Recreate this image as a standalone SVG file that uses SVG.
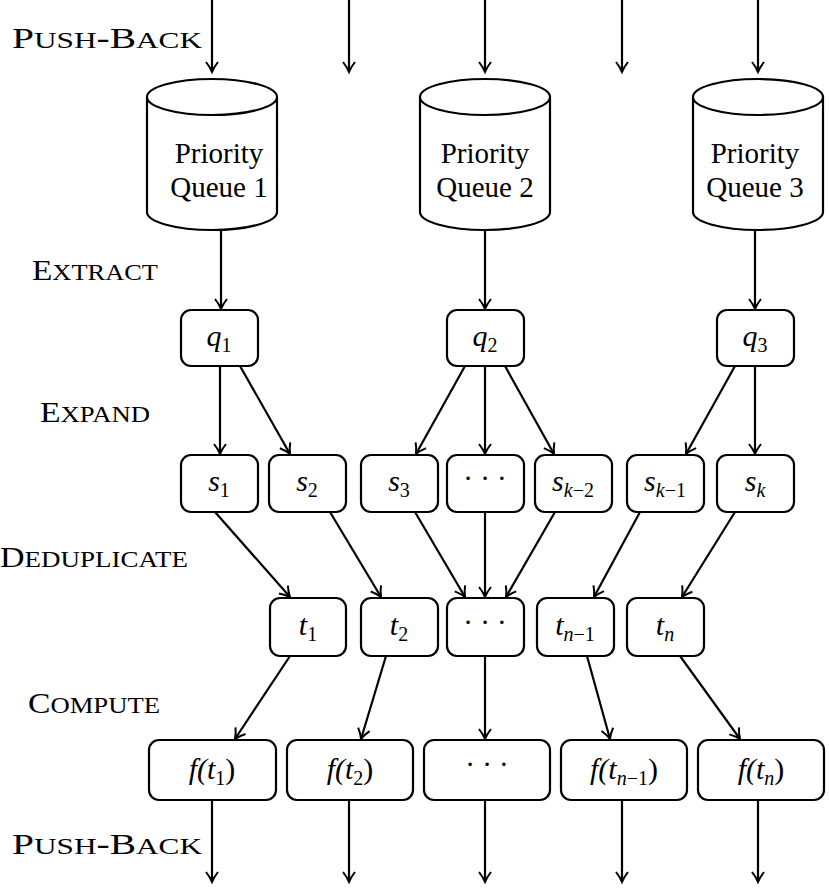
<svg xmlns="http://www.w3.org/2000/svg" width="829" height="888" viewBox="0 0 829 888">
<defs>
<marker id="ah" markerWidth="14" markerHeight="14" refX="12" refY="7" orient="auto" markerUnits="userSpaceOnUse">
<path d="M2,1 Q7,5 12,7 Q7,9 2,13" fill="none" stroke="#000" stroke-width="2"/>
</marker>
<style>
.b{fill:#fff;stroke:#000;stroke-width:2.2}
.c line{stroke:#000;stroke-width:2.2;marker-end:url(#ah)}
.t{font-family:"Liberation Serif",serif;font-size:29px;text-anchor:middle}
.m{font-family:"Liberation Serif",serif;font-size:30px;font-style:italic;text-anchor:middle}
.s{font-size:20px;font-style:normal}
.si{font-size:20px}
.l{font-family:"Liberation Serif",serif;font-size:29px}
.l tspan{font-size:23px}
</style>
</defs>
<rect width="829" height="888" fill="#fff"/>
<g id="labels">
<text class="l" x="12" y="48" textLength="190" lengthAdjust="spacingAndGlyphs">P<tspan>USH</tspan>-B<tspan>ACK</tspan></text>
<text class="l" x="32" y="280" textLength="126" lengthAdjust="spacingAndGlyphs">E<tspan>XTRACT</tspan></text>
<text class="l" x="40" y="422" textLength="110" lengthAdjust="spacingAndGlyphs">E<tspan>XPAND</tspan></text>
<text class="l" x="0" y="567" textLength="188" lengthAdjust="spacingAndGlyphs">D<tspan>EDUPLICATE</tspan></text>
<text class="l" x="28" y="713" textLength="132" lengthAdjust="spacingAndGlyphs">C<tspan>OMPUTE</tspan></text>
<text class="l" x="12" y="854" textLength="190" lengthAdjust="spacingAndGlyphs">P<tspan>USH</tspan>-B<tspan>ACK</tspan></text>
</g>
<g id="pq1"><path class="b" d="M147,97 V212 A65,18 0 0 0 277,212 V97 A65,18 0 0 0 147,97 A65,18 0 0 0 277,97"/><text class="t" x="219" y="163">Priority</text><text class="t" x="219" y="197">Queue 1</text></g>
<g id="pq2"><path class="b" d="M420,97 V212 A65,18 0 0 0 550,212 V97 A65,18 0 0 0 420,97 A65,18 0 0 0 550,97"/><text class="t" x="485" y="163">Priority</text><text class="t" x="485" y="197">Queue 2</text></g>
<g id="pq3"><path class="b" d="M693,97 V212 A65,18 0 0 0 823,212 V97 A65,18 0 0 0 693,97 A65,18 0 0 0 823,97"/><text class="t" x="755" y="163">Priority</text><text class="t" x="755" y="197">Queue 3</text></g>
<g id="q1"><rect class="b" x="181" y="310" width="77" height="56" rx="10"/><text class="m" x="219" y="346">q<tspan class="s" dy="6">1</tspan></text></g>
<g id="q2"><rect class="b" x="447" y="310" width="77" height="56" rx="10"/><text class="m" x="485" y="346">q<tspan class="s" dy="6">2</tspan></text></g>
<g id="q3"><rect class="b" x="717" y="310" width="77" height="56" rx="10"/><text class="m" x="755" y="346">q<tspan class="s" dy="6">3</tspan></text></g>
<g id="s1"><rect class="b" x="181" y="455" width="77" height="57" rx="10"/><text class="m" x="219" y="491">s<tspan class="s" dy="6">1</tspan></text></g>
<g id="s2"><rect class="b" x="269" y="455" width="77" height="57" rx="10"/><text class="m" x="307" y="491">s<tspan class="s" dy="6">2</tspan></text></g>
<g id="s3"><rect class="b" x="361" y="455" width="77" height="57" rx="10"/><text class="m" x="399" y="491">s<tspan class="s" dy="6">3</tspan></text></g>
<g id="sdots"><rect class="b" x="447" y="455" width="77" height="57" rx="10"/><text class="t" x="485" y="488">· · ·</text></g>
<g id="sk2"><rect class="b" x="535" y="455" width="77" height="57" rx="10"/><text class="m" x="573" y="491">s<tspan class="si" dy="6">k</tspan><tspan class="s">−2</tspan></text></g>
<g id="sk1"><rect class="b" x="627" y="455" width="77" height="57" rx="10"/><text class="m" x="665" y="491">s<tspan class="si" dy="6">k</tspan><tspan class="s">−1</tspan></text></g>
<g id="sk"><rect class="b" x="717" y="455" width="77" height="57" rx="10"/><text class="m" x="755" y="491">s<tspan class="si" dy="6">k</tspan></text></g>
<g id="t1"><rect class="b" x="270" y="598" width="76" height="58" rx="10"/><text class="m" x="308" y="635">t<tspan class="s" dy="6">1</tspan></text></g>
<g id="t2"><rect class="b" x="361" y="598" width="77" height="58" rx="10"/><text class="m" x="399" y="635">t<tspan class="s" dy="6">2</tspan></text></g>
<g id="tdots"><rect class="b" x="447" y="598" width="77" height="58" rx="10"/><text class="t" x="485" y="632">· · ·</text></g>
<g id="tn1"><rect class="b" x="537" y="598" width="77" height="58" rx="10"/><text class="m" x="575" y="635">t<tspan class="si" dy="6">n</tspan><tspan class="s">−1</tspan></text></g>
<g id="tn"><rect class="b" x="627" y="598" width="77" height="58" rx="10"/><text class="m" x="665" y="635">t<tspan class="si" dy="6">n</tspan></text></g>
<g id="f1"><rect class="b" x="149" y="740" width="127" height="60" rx="10"/><text class="m" x="212" y="779">f(t<tspan class="s" dy="6">1</tspan><tspan dy="-6" font-style="normal">)</tspan></text></g>
<g id="f2"><rect class="b" x="287" y="740" width="126" height="60" rx="10"/><text class="m" x="350" y="779">f(t<tspan class="s" dy="6">2</tspan><tspan dy="-6" font-style="normal">)</tspan></text></g>
<g id="fdots"><rect class="b" x="424" y="740" width="126" height="60" rx="10"/><text class="t" x="487" y="774">· · ·</text></g>
<g id="fn1"><rect class="b" x="561" y="740" width="126" height="60" rx="10"/><text class="m" x="624" y="779">f(t<tspan class="si" dy="6">n</tspan><tspan class="s">−1</tspan><tspan dy="-6" font-style="normal">)</tspan></text></g>
<g id="fn"><rect class="b" x="698" y="740" width="126" height="60" rx="10"/><text class="m" x="761" y="779">f(t<tspan class="si" dy="6">n</tspan><tspan dy="-6" font-style="normal">)</tspan></text></g>
<g id="connectors" class="c">
<line x1="212" y1="0" x2="212" y2="72"/><line x1="349" y1="0" x2="349" y2="72"/><line x1="485" y1="0" x2="485" y2="72"/><line x1="622" y1="0" x2="622" y2="72"/><line x1="758" y1="0" x2="758" y2="72"/>
<line x1="221" y1="230" x2="221" y2="309"/><line x1="485" y1="230" x2="485" y2="309"/><line x1="755" y1="230" x2="755" y2="309"/>
<line x1="220" y1="366" x2="220" y2="454"/><line x1="240" y1="366" x2="290" y2="454"/>
<line x1="465" y1="366" x2="416" y2="454"/><line x1="485" y1="366" x2="485" y2="454"/><line x1="505" y1="366" x2="554" y2="454"/>
<line x1="735" y1="366" x2="686" y2="454"/><line x1="755" y1="366" x2="755" y2="454"/>
<line x1="215" y1="512" x2="290" y2="597"/><line x1="330" y1="512" x2="381" y2="597"/><line x1="415" y1="512" x2="465" y2="597"/><line x1="485" y1="512" x2="485" y2="597"/><line x1="555" y1="512" x2="506" y2="597"/><line x1="640" y1="512" x2="594" y2="597"/><line x1="735" y1="512" x2="682" y2="597"/>
<line x1="290" y1="656" x2="235" y2="739"/><line x1="386" y1="656" x2="361" y2="739"/><line x1="485" y1="656" x2="485" y2="739"/><line x1="587" y1="656" x2="610" y2="739"/><line x1="680" y1="656" x2="740" y2="739"/>
<line x1="212" y1="800" x2="212" y2="882"/><line x1="349" y1="800" x2="349" y2="882"/><line x1="485" y1="800" x2="485" y2="882"/><line x1="622" y1="800" x2="622" y2="882"/><line x1="758" y1="800" x2="758" y2="882"/>
</g>
</svg>
